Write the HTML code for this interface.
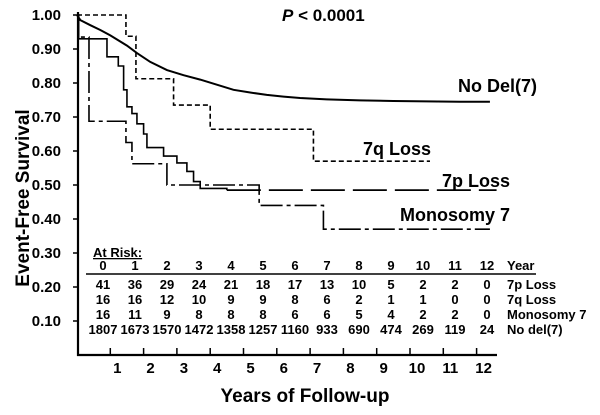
<!DOCTYPE html>
<html><head><meta charset="utf-8"><style>
body{margin:0;background:#fff;}
svg text{font-family:"Liberation Sans",Arial,sans-serif;font-weight:bold;fill:#000;}
</style></head><body>
<svg id="chart" width="600" height="410" viewBox="0 0 600 410" xmlns="http://www.w3.org/2000/svg">
<g id="axes"></g>
<g id="series"></g>
<g id="table"></g>
<text transform="translate(29,198) rotate(-90)" text-anchor="middle" font-size="19">Event-Free Survival</text>
<text x="305" y="402" text-anchor="middle" font-size="19">Years of Follow-up</text>
<text x="282" y="21" font-size="17"><tspan font-style="italic">P</tspan> &lt; 0.0001</text>
<text x="458" y="92" font-size="18">No Del(7)</text>
<text x="363" y="155" font-size="18">7q Loss</text>
<text x="442" y="187" font-size="18">7p Loss</text>
<text x="400" y="221" font-size="18">Monosomy 7</text>
</svg>
<script>
const yTicks=[1.0,0.9,0.8,0.7,0.6,0.5,0.4,0.3,0.2,0.1];
const xTicks=[1,2,3,4,5,6,7,8,9,10,11,12];
const noDelT=[0,0.1,0.4,0.7,1.0,1.5,1.8,2.2,2.7,3.2,3.7,4.2,4.7,5.2,5.7,6.2,6.7,7.5,8.5,9.5,10.5,11.5,12.4];
const noDelV=[1,0.985,0.97,0.956,0.94,0.91,0.888,0.862,0.838,0.823,0.81,0.795,0.78,0.772,0.765,0.76,0.756,0.752,0.749,0.747,0.746,0.745,0.745];
const q7T=[0,1.47,1.77,2.9,4.0,7.1,10.6];
const q7V=[1.0,0.9375,0.8125,0.735,0.664,0.57,0.57];
const p7T=[0,0.05,0.9,1.24,1.4,1.5,1.65,1.8,2.0,2.1,2.6,3.0,3.3,3.5,3.7,4.5];
const p7V=[1.0,0.93,0.877,0.85,0.78,0.73,0.71,0.68,0.65,0.61,0.585,0.565,0.54,0.51,0.49,0.485];
const p7DashEnd=12.6;
const monoT=[0,0.05,0.36,1.47,1.65,2.7,5.47,7.4,12.4];
const monoV=[1.0,0.935,0.6875,0.625,0.5625,0.5,0.44,0.37,0.37];
const riskYears=[0,1,2,3,4,5,6,7,8,9,10,11,12];
const risk7p=[41,36,29,24,21,18,17,13,10,5,2,2,0];
const risk7q=[16,16,12,10,9,9,8,6,2,1,1,0,0];
const riskMono=[16,11,9,8,8,8,6,6,5,4,2,2,0];
const riskNoDel=[1807,1673,1570,1472,1358,1257,1160,933,690,474,269,119,24];

const NS="http://www.w3.org/2000/svg";
const X=t=>77+33.3*t;
const Y=v=>355-340*v;
function mk(tag,attrs,parent,txt){const e=document.createElementNS(NS,tag);for(const k in attrs)e.setAttribute(k,attrs[k]);if(txt!==undefined)e.textContent=txt;parent.appendChild(e);return e;}
const ax=document.getElementById('axes');
let e=mk('line',{x1:78,y1:12,x2:78,y2:356,stroke:'#000','stroke-width':2.2},ax);


e=mk('line',{x1:77,y1:355,x2:497,y2:355,stroke:'#000','stroke-width':2.2},ax);


yTicks.forEach(v=>{
  let t=mk('line',{x1:73,y1:Y(v),x2:78,y2:Y(v),stroke:'#000','stroke-width':1.5},ax);
  
  
  let l=mk('text',{x:61,y:Y(v)+5,'text-anchor':'end','font-size':15},ax,v.toFixed(2));
  
  
});
xTicks.forEach(v=>{
  let t=mk('line',{x1:X(v),y1:348,x2:X(v),y2:355,stroke:'#000','stroke-width':1.5},ax);
  
  
  let l=mk('text',{x:X(v)+7,y:373,'text-anchor':'middle','font-size':15},ax,String(v));
  
  
});
function stepPath(T,V,end){let d='M'+X(T[0])+','+Y(V[0]);for(let i=1;i<T.length;i++){d+=' H'+X(T[i])+' V'+Y(V[i]);}if(end!==undefined)d+=' H'+X(end);return d;}
function smoothPath(T,V){return T.map((t,i)=>(i?'L':'M')+X(t)+','+Y(V[i])).join(' ');}
const sg=document.getElementById('series');
e=mk('path',{d:smoothPath(noDelT,noDelV),fill:'none',stroke:'#000','stroke-width':2},sg);


e=mk('path',{d:stepPath(q7T,q7V),fill:'none',stroke:'#000','stroke-width':1.6,'stroke-dasharray':'5,3'},sg);


e=mk('path',{d:stepPath(p7T,p7V),fill:'none',stroke:'#000','stroke-width':1.6},sg);


e=mk('path',{d:'M'+X(p7T[p7T.length-1])+','+Y(p7V[p7V.length-1])+' H'+X(p7DashEnd),fill:'none',stroke:'#000','stroke-width':1.8,'stroke-dasharray':'34,8'},sg);


e=mk('path',{d:stepPath(monoT,monoV),fill:'none',stroke:'#000','stroke-width':1.6,'stroke-dasharray':'22,4,4,4'},sg);



const tb=document.getElementById('table');
const CX=i=>103+32*i;
e=mk('text',{x:93,y:257,'font-size':13,'text-decoration':'underline'},tb,'At Risk:');


e=mk('line',{x1:86,y1:274,x2:536,y2:274,stroke:'#000','stroke-width':1.5},tb);


const rows=[[riskYears,'Year',270],[risk7p,'7p Loss',289],[risk7q,'7q Loss',304],[riskMono,'Monosomy 7',319],[riskNoDel,'No del(7)',334]];
rows.forEach(r=>{
  r[0].forEach((n,i)=>{
    let c=mk('text',{x:CX(i),y:r[2],'text-anchor':'middle','font-size':13},tb,String(n));
    
    
  });
  let l=mk('text',{x:507,y:r[2],'font-size':13},tb,r[1]);
  
  
});
</script>
</body></html>
